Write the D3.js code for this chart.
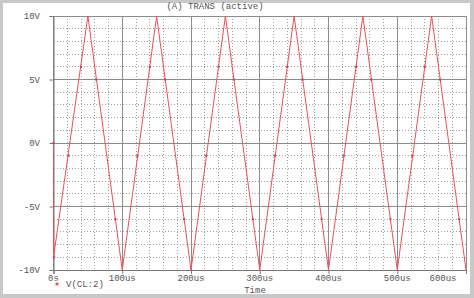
<!DOCTYPE html>
<html>
<head>
<meta charset="utf-8">
<script src="https://cdn.jsdelivr.net/npm/d3@7"></script>
<style>
  html, body { margin: 0; padding: 0; background: #fff; }
  text { font-family: "Liberation Mono", "DejaVu Sans Mono", monospace; font-size: 9px; fill: #555; }
</style>
</head>
<body>
<svg id="chart" width="474" height="298"></svg>
<script>
// waveform vertices: time in us, voltage in V
const traceTimes = [0, 0, 50, 100, 150, 200, 250, 300, 350, 400, 450, 500, 550, 600];
const traceVolts = [0, -9, 10, -10, 10, -10, 10, -10, 10, -10, 10, -10, 10, -10];

// marker symbols drawn along the trace
const markerTimes = [0, 1, 22, 40, 62, 90, 122, 140, 162, 190, 222, 240, 262, 290,
                     322, 340, 362, 390, 422, 440, 462, 490, 522, 540, 562, 590];
const markerVolts = [0, -9, -1, 6, 5, -6, -1, 6, 5, -6, -1, 6, 5, -6,
                     -1, 6, 5, -6, -1, 6, 5, -6, -1, 6, 5, -6];

const xTicks = [0, 100, 200, 300, 400, 500, 600];
const xTickLabels = ['0s', '100us', '200us', '300us', '400us', '500us', '600us'];
const yTicks = [10, 5, 0, -5, -10];
const yTickLabels = ['10V', '5V', '0V', '-5V', '-10V'];

const title = '(A) TRANS (active)';
const seriesName = 'V(CL:2)';
const xTitle = 'Time';

const W = 474, H = 298;
const plotL = 53.5, plotR = 466, plotT = 16, plotB = 270;

const svg = d3.select('#chart');

// window frame
svg.append('rect').attr('x', 0).attr('y', 0).attr('width', W).attr('height', H).attr('fill', '#c8c8c8');
svg.append('rect').attr('x', 3).attr('y', 3).attr('width', 467).attr('height', 291).attr('fill', '#fff');

const x = d3.scaleLinear().domain([0, 600]).range([plotL, plotR]);
const y = d3.scaleLinear().domain([-10, 10]).range([plotB, plotT]);

const grid = svg.append('g');

// minor dotted grid
grid.selectAll('line.vminor')
  .data(d3.range(0, 600, 20).filter(t => t % 100 !== 0))
  .enter().append('line')
  .attr('x1', d => x(d)).attr('x2', d => x(d))
  .attr('y1', plotT).attr('y2', plotB)
  .attr('stroke', '#a0a0a0').attr('stroke-width', 1).attr('stroke-dasharray', '1,2')
  .attr('shape-rendering', 'crispEdges');

grid.selectAll('line.hminor')
  .data(d3.range(-9, 10, 1).filter(v => v % 5 !== 0))
  .enter().append('line')
  .attr('x1', plotL).attr('x2', plotR)
  .attr('y1', d => y(d)).attr('y2', d => y(d))
  .attr('stroke', '#a0a0a0').attr('stroke-width', 1).attr('stroke-dasharray', '1,2')
  .attr('shape-rendering', 'crispEdges');

// major grid
grid.selectAll('line.vmajor')
  .data(xTicks)
  .enter().append('line')
  .attr('x1', d => x(d)).attr('x2', d => x(d))
  .attr('y1', plotT).attr('y2', plotB)
  .attr('stroke', '#8c8c8c').attr('stroke-width', 1)
  .attr('shape-rendering', 'crispEdges');

grid.selectAll('line.hmajor')
  .data(yTicks)
  .enter().append('line')
  .attr('x1', plotL).attr('x2', plotR)
  .attr('y1', d => y(d)).attr('y2', d => y(d))
  .attr('stroke', '#8c8c8c').attr('stroke-width', 1)
  .attr('shape-rendering', 'crispEdges');

// axes
const xAxis = d3.axisBottom(x).tickValues(xTicks).tickSize(4).tickFormat('');
svg.append('g').attr('transform', `translate(0,${plotB})`).call(xAxis)
  .call(g => g.select('.domain').attr('stroke', '#777'))
  .call(g => g.selectAll('.tick line').attr('stroke', '#777'));

const yAxis = d3.axisLeft(y).tickValues(yTicks).tickSize(4).tickFormat('');
svg.append('g').attr('transform', `translate(${plotL},0)`).call(yAxis)
  .call(g => g.select('.domain').attr('stroke', '#777'))
  .call(g => g.selectAll('.tick line').attr('stroke', '#777'));

// tick labels
svg.selectAll('text.xl')
  .data(xTicks)
  .enter().append('text')
  .attr('x', (d, i) => i === xTicks.length - 1 ? x(d) - 23 : x(d))
  .attr('y', 281)
  .attr('text-anchor', 'middle')
  .text((d, i) => xTickLabels[i]);

svg.selectAll('text.yl')
  .data(yTicks)
  .enter().append('text')
  .attr('x', 40)
  .attr('y', d => y(d) + 3)
  .attr('text-anchor', 'end')
  .text((d, i) => yTickLabels[i]);

// title and axis title
svg.append('text').attr('x', 215).attr('y', 9).attr('text-anchor', 'middle').text(title);
svg.append('text').attr('x', 255).attr('y', 293).attr('text-anchor', 'middle').text(xTitle);

// trace
const pts = traceTimes.map((t, i) => [t, traceVolts[i]]);
const line = d3.line().x(d => x(d[0])).y(d => y(d[1]));
svg.append('path')
  .datum(pts)
  .attr('d', line)
  .attr('fill', 'none')
  .attr('stroke', '#e8505c')
  .attr('stroke-width', 1);

// markers
const cross = d3.symbol().type(d3.symbolCross).size(4);
svg.selectAll('path.mk')
  .data(markerTimes.map((t, i) => [t, markerVolts[i]]))
  .enter().append('path')
  .attr('d', cross)
  .attr('transform', d => `translate(${x(d[0])},${y(d[1])}) rotate(45)`)
  .attr('fill', '#d03848');

// legend
svg.append('path')
  .attr('d', d3.symbol().type(d3.symbolCross).size(8))
  .attr('transform', 'translate(57,284) rotate(45)')
  .attr('fill', '#e8505c');
svg.append('text').attr('x', 66).attr('y', 287).text(seriesName);
</script>
</body>
</html>
